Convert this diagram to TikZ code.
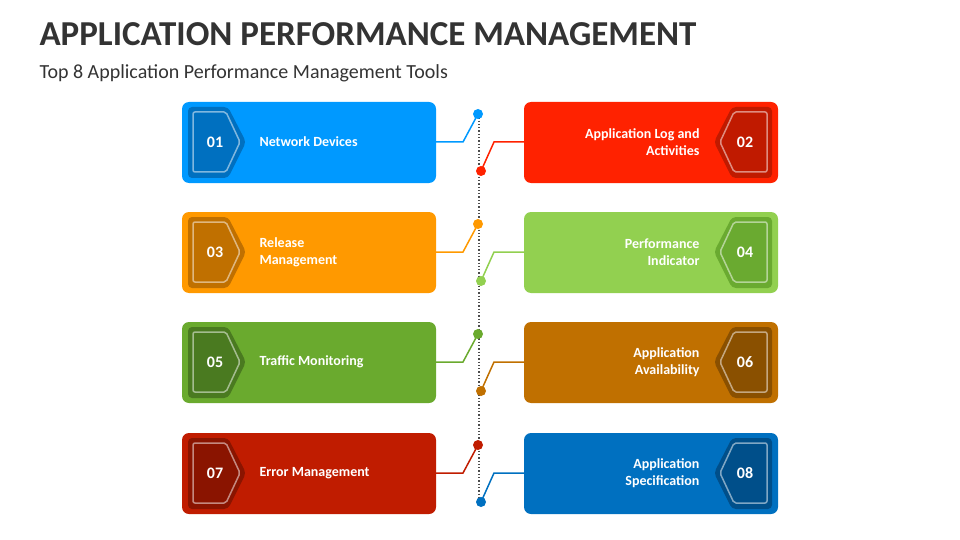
\documentclass[tikz,border=0pt]{standalone}
\usepackage{fontspec}
\setmainfont{Carlito}
\begin{document}
\begin{tikzpicture}[x=1pt,y=-1pt,
  lbl/.style={text=white,font=\bfseries\fontsize{14}{17}\selectfont,align=left},
  rlbl/.style={text=white,font=\bfseries\fontsize{14}{17}\selectfont,align=right},
  num/.style={text=white,font=\bfseries\fontsize{16}{18}\selectfont},
  conn/.style={line width=1.5pt},
  dotn/.style={circle,inner sep=0pt,minimum size=10pt}]
\useasboundingbox (0,0) rectangle (960,540);
\definecolor{c1}{HTML}{0099FF}\definecolor{d1}{HTML}{0070C0}
\definecolor{c2}{HTML}{FF2200}\definecolor{d2}{HTML}{C01A00}
\definecolor{c3}{HTML}{FF9900}\definecolor{d3}{HTML}{C07000}
\definecolor{c4}{HTML}{92D050}\definecolor{d4}{HTML}{6AAA30}
\definecolor{c5}{HTML}{6AAA2E}\definecolor{d5}{HTML}{4A7A20}
\definecolor{c6}{HTML}{C07000}\definecolor{d6}{HTML}{8A5000}
\definecolor{c7}{HTML}{C01C00}\definecolor{d7}{HTML}{8A1400}
\definecolor{c8}{HTML}{0070C0}\definecolor{d8}{HTML}{004F8A}
\node[anchor=west,font=\bfseries\fontsize{35}{40}\selectfont,text=black!80] (title) at (36,34) {APPLICATION PERFORMANCE MANAGEMENT};
\node[anchor=west,font=\fontsize{20}{24}\selectfont,text=black!80] (sub) at (36,73) {Top 8 Application Performance Management Tools};
\draw[dotted,line width=1.3pt,black!70] (479,114) -- (479,505);
% left rows
\foreach \y/\n/\c/\d/\t in {142/01/c1/d1/Network Devices,252/03/c3/d3/{Release\\Management},362/05/c5/d5/Traffic Monitoring,473/07/c7/d7/Error Management}{
  \fill[\c,rounded corners=7pt] (182,\y-40) rectangle (436,\y+41);
  \fill[\d,rounded corners=4pt] (188,\y-35) -- (228,\y-35) -- (246,\y) -- (228,\y+36) -- (188,\y+36) -- cycle;
  \draw[white,opacity=0.5,line width=1.5pt,rounded corners=2pt] (193,\y-30) -- (226,\y-30) -- (240,\y) -- (226,\y+30) -- (193,\y+30) -- cycle;
  \node[num] at (215,\y) {\n};
  \node[lbl,anchor=west] at (256,\y) {\t};
  \node[dotn,fill=\c] (ld\n) at (478,\y-28) {};
  \draw[conn,\c] (436,\y) -- (463,\y) -- (ld\n.center);
}
% right rows
\foreach \y/\n/\c/\d/\t in {142/02/c2/d2/{Application Log and\\Activities},252/04/c4/d4/{Performance\\Indicator},362/06/c6/d6/{Application\\Availability},473/08/c8/d8/{Application\\Specification}}{
  \fill[\c,rounded corners=7pt] (524,\y-40) rectangle (778,\y+41);
  \fill[\d,rounded corners=4pt] (772,\y-35) -- (732,\y-35) -- (714,\y) -- (732,\y+36) -- (772,\y+36) -- cycle;
  \draw[white,opacity=0.5,line width=1.5pt,rounded corners=2pt] (767,\y-30) -- (734,\y-30) -- (720,\y) -- (734,\y+30) -- (767,\y+30) -- cycle;
  \node[num] at (745,\y) {\n};
  \node[rlbl,anchor=east] at (703,\y) {\t};
  \node[dotn,fill=\c] (rd\n) at (481,\y+29) {};
  \draw[conn,\c] (rd\n.center) -- (494,\y) -- (524,\y);
}
\end{tikzpicture}
\end{document}
